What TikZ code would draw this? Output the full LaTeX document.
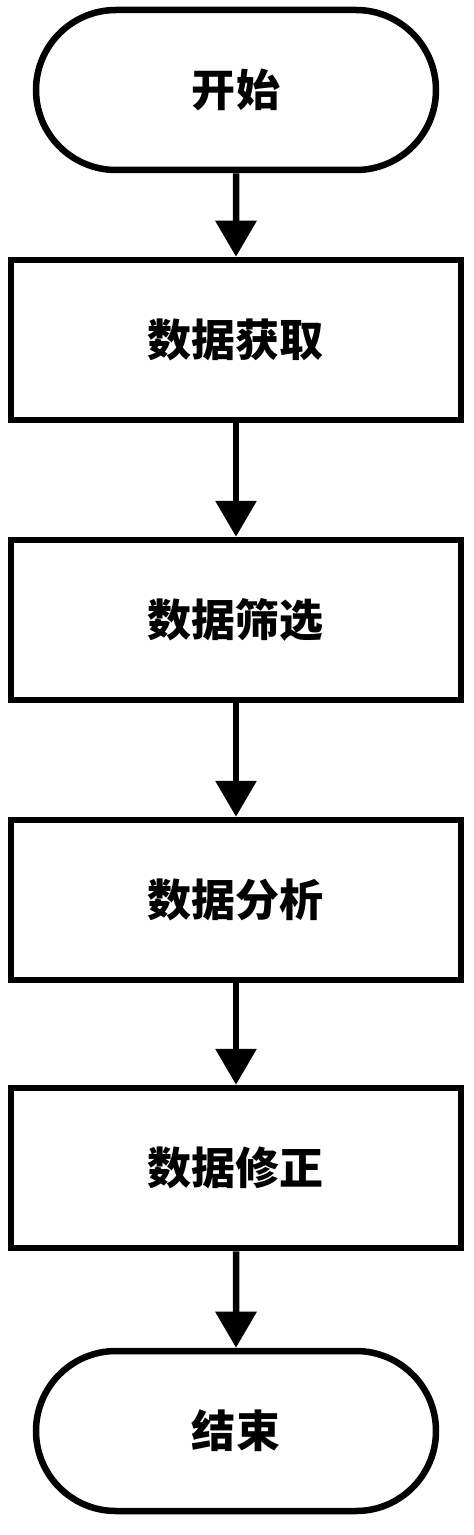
\documentclass[tikz,border=0pt]{standalone}
\usepackage{fontspec}
\newfontfamily\cjk{Noto Sans CJK SC}
\usetikzlibrary{positioning,shapes.misc,arrows.meta}

\begin{document}
\begin{tikzpicture}[line width=3.25pt, >={Triangle[width=20pt,length=18pt]},
    main/.style = {draw, rectangle, minimum width=225pt, minimum height=80pt, inner sep=0pt, font=\cjk\bfseries\fontsize{22}{26}\selectfont},
    term/.style = {main, rounded rectangle, minimum width=200pt}]
        \useasboundingbox (-118pt,45pt) rectangle (119pt,-722.5pt);
        \node[term] (1) at (0,0) {开始};
        \node[main] (2) [below=41.75pt of 1] {数据获取};
        \node[main] (3) [below=56.75pt of 2] {数据筛选};
        \node[main] (4) [below=56.75pt of 3] {数据分析};
        \node[main] (5) [below=50.75pt of 4] {数据修正};
        \node[term] (6) [below=48.25pt of 5] {结束};

        \draw[->] (1) -- (2);
        \draw[->] (2) -- (3);
        \draw[->] (3) -- (4);
        \draw[->] (4) -- (5);
        \draw[->] (5) -- (6);

    \end{tikzpicture}
\end{document}
